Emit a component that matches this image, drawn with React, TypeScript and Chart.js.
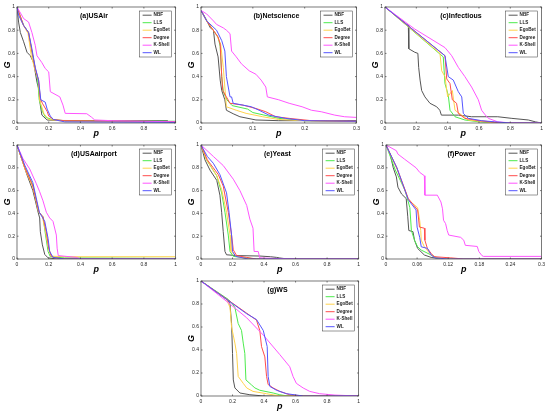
import React, { useEffect, useRef } from "react";
import { Chart, registerables } from "chart.js";

Chart.register(...registerables);

type Pt = [number, number];

const FONT = '"Liberation Sans", Arial, sans-serif';

const SERIES_NAMES = ["NBF", "LLS", "EgoBet", "Degree", "K-Shell", "WL"];
const SERIES_COLORS = ["#555555", "#4DEB4D", "#FFD34D", "#FF4D4D", "#FF55FF", "#5555FF"];

const Y_TICKS = [0, 0.2, 0.4, 0.6, 0.8, 1];
const X_TICKS_UNIT = [0, 0.2, 0.4, 0.6, 0.8, 1];
const X_TICKS_NETSCIENCE = [0, 0.1, 0.2, 0.3];
const X_TICKS_POWER = [0, 0.06, 0.12, 0.18, 0.24, 0.3];

// (a) USAir
const usairNBF: Pt[] = [[0, 1], [0.01, 0.87], [0.021, 0.78], [0.042, 0.7], [0.063, 0.61], [0.084, 0.58], [0.105, 0.52], [0.126, 0.35], [0.136, 0.3], [0.147, 0.154], [0.157, 0.068], [0.19, 0.026], [0.25, 0.022], [0.4, 0.021], [0.95, 0.02], [0.96, 0.005], [1, 0]];
const usairLLS: Pt[] = [[0, 1], [0.042, 0.84], [0.073, 0.78], [0.094, 0.61], [0.115, 0.47], [0.13, 0.38], [0.14, 0.2], [0.16, 0.1], [0.18, 0.05], [0.22, 0.03], [0.3, 0.02], [1, 0.015]];
const usairEgoBet: Pt[] = [[0, 1], [0.03, 0.87], [0.07, 0.77], [0.09, 0.58], [0.115, 0.45], [0.136, 0.37], [0.142, 0.2], [0.17, 0.08], [0.2, 0.03], [0.3, 0.015], [1, 0.01]];
const usairDegree: Pt[] = [[0, 1], [0.042, 0.84], [0.073, 0.78], [0.094, 0.62], [0.115, 0.47], [0.136, 0.37], [0.147, 0.21], [0.16, 0.17], [0.19, 0.1], [0.2, 0.06], [0.23, 0.03], [0.3, 0.02], [1, 0.012]];
const usairKShell: Pt[] = [[0, 1], [0.042, 0.9], [0.073, 0.87], [0.094, 0.78], [0.115, 0.67], [0.126, 0.58], [0.157, 0.52], [0.178, 0.47], [0.2, 0.44], [0.21, 0.27], [0.27, 0.225], [0.29, 0.154], [0.304, 0.083], [0.44, 0.08], [0.47, 0.05], [0.49, 0.026], [0.6, 0.02], [1, 0.01]];
const usairWL: Pt[] = [[0, 1], [0.01, 0.93], [0.042, 0.84], [0.073, 0.78], [0.094, 0.64], [0.115, 0.48], [0.136, 0.37], [0.15, 0.2], [0.178, 0.18], [0.19, 0.12], [0.21, 0.06], [0.23, 0.03], [0.3, 0.01], [1, 0.005]];

// (b) Netscience
const netNBF: Pt[] = [[0, 0.97], [0.008, 0.91], [0.018, 0.82], [0.024, 0.8], [0.027, 0.68], [0.033, 0.57], [0.037, 0.37], [0.04, 0.28], [0.046, 0.2], [0.049, 0.11], [0.062, 0.08], [0.075, 0.054], [0.106, 0.026], [0.15, 0.02], [0.3, 0.02]];
const netLLS: Pt[] = [[0, 0.97], [0.011, 0.88], [0.033, 0.74], [0.037, 0.66], [0.04, 0.4], [0.043, 0.27], [0.05, 0.2], [0.06, 0.15], [0.09, 0.12], [0.1, 0.09], [0.12, 0.07], [0.15, 0.04], [0.2, 0.02], [0.3, 0.012]];
const netEgoBet: Pt[] = [[0, 0.97], [0.011, 0.88], [0.03, 0.76], [0.038, 0.68], [0.043, 0.48], [0.049, 0.14], [0.068, 0.11], [0.087, 0.083], [0.119, 0.054], [0.15, 0.03], [0.2, 0.02], [0.3, 0.012]];
const netDegree: Pt[] = [[0, 0.97], [0.011, 0.88], [0.033, 0.74], [0.037, 0.68], [0.04, 0.4], [0.042, 0.28], [0.049, 0.225], [0.056, 0.17], [0.081, 0.154], [0.106, 0.125], [0.125, 0.097], [0.144, 0.054], [0.17, 0.04], [0.213, 0.02], [0.3, 0.015]];
const netKShell: Pt[] = [[0, 0.97], [0.011, 0.94], [0.024, 0.88], [0.03, 0.85], [0.043, 0.82], [0.049, 0.8], [0.056, 0.77], [0.059, 0.62], [0.068, 0.57], [0.078, 0.51], [0.093, 0.45], [0.106, 0.42], [0.116, 0.37], [0.125, 0.31], [0.128, 0.225], [0.15, 0.2], [0.17, 0.17], [0.195, 0.14], [0.213, 0.11], [0.232, 0.097], [0.258, 0.068], [0.277, 0.054], [0.3, 0.048]];
const netWL: Pt[] = [[0, 0.97], [0.011, 0.88], [0.03, 0.8], [0.04, 0.71], [0.046, 0.62], [0.049, 0.4], [0.056, 0.225], [0.059, 0.225], [0.062, 0.17], [0.081, 0.154], [0.097, 0.14], [0.112, 0.11], [0.131, 0.068], [0.163, 0.04], [0.2, 0.02], [0.3, 0.015]];

// (c) Infectious
const infNBF: Pt[] = [[0, 1], [0.149, 0.84], [0.152, 0.64], [0.19, 0.61], [0.21, 0.6], [0.215, 0.48], [0.224, 0.37], [0.234, 0.28], [0.255, 0.225], [0.287, 0.17], [0.33, 0.14], [0.35, 0.11], [0.36, 0.068], [0.47, 0.068], [0.553, 0.054], [0.72, 0.054], [0.81, 0.04], [0.915, 0.026], [0.96, 0.01], [1, 0]];
const infLLS: Pt[] = [[0, 1], [0.372, 0.57], [0.383, 0.34], [0.404, 0.24], [0.415, 0.11], [0.447, 0.054], [0.51, 0.026], [0.6, 0.01], [0.7, 0], [1, 0]];
const infEgoBet: Pt[] = [[0, 1], [0.351, 0.6], [0.362, 0.45], [0.383, 0.4], [0.4, 0.225], [0.43, 0.28], [0.447, 0.11], [0.49, 0.068], [0.53, 0.026], [0.7, 0], [1, 0]];
const infDegree: Pt[] = [[0, 1], [0.383, 0.58], [0.394, 0.38], [0.415, 0.34], [0.43, 0.2], [0.457, 0.17], [0.468, 0.083], [0.51, 0.04], [0.6, 0.02], [0.75, 0], [1, 0]];
const infKShell: Pt[] = [[0, 1], [0.19, 0.81], [0.383, 0.65], [0.426, 0.58], [0.468, 0.48], [0.51, 0.4], [0.553, 0.31], [0.596, 0.2], [0.617, 0.11], [0.64, 0.07], [0.66, 0.04], [0.72, 0.01], [0.81, 0], [1, 0]];
const infWL: Pt[] = [[0, 1], [0.383, 0.58], [0.404, 0.4], [0.436, 0.37], [0.468, 0.27], [0.49, 0.225], [0.5, 0.083], [0.532, 0.04], [0.617, 0.02], [0.7, 0.01], [0.8, 0], [1, 0]];

// (d) USAairport
const airNBF: Pt[] = [[0, 1], [0.06, 0.75], [0.1, 0.6], [0.133, 0.41], [0.143, 0.36], [0.147, 0.24], [0.16, 0.124], [0.175, 0.04], [0.196, 0.01], [0.25, 0], [1, 0]];
const airLLS: Pt[] = [[0, 1], [0.05, 0.8], [0.1, 0.65], [0.137, 0.41], [0.164, 0.37], [0.18, 0.21], [0.196, 0.066], [0.21, 0.02], [0.3, 0.01], [1, 0.005]];
const airEgoBet: Pt[] = [[0, 1], [0.05, 0.79], [0.1, 0.63], [0.135, 0.42], [0.16, 0.37], [0.18, 0.24], [0.2, 0.08], [0.215, 0.025], [0.3, 0.02], [1, 0.02]];
const airDegree: Pt[] = [[0, 1], [0.05, 0.8], [0.1, 0.64], [0.139, 0.41], [0.164, 0.37], [0.185, 0.24], [0.2, 0.095], [0.217, 0.023], [0.24, 0.01], [0.3, 0], [1, 0]];
const airKShell: Pt[] = [[0, 1], [0.038, 0.88], [0.08, 0.79], [0.122, 0.66], [0.143, 0.59], [0.164, 0.51], [0.185, 0.41], [0.206, 0.36], [0.227, 0.33], [0.248, 0.21], [0.253, 0.095], [0.26, 0.03], [0.31, 0.023], [0.375, 0.014], [0.4, 0], [1, 0]];
const airWL: Pt[] = [[0, 1], [0.05, 0.82], [0.1, 0.67], [0.141, 0.41], [0.175, 0.33], [0.196, 0.18], [0.206, 0.066], [0.227, 0.014], [0.3, 0], [1, 0]];

// (e) Yeast
const yeastNBF: Pt[] = [[0, 1], [0.025, 0.87], [0.057, 0.78], [0.1, 0.69], [0.12, 0.56], [0.131, 0.41], [0.141, 0.24], [0.152, 0.066], [0.162, 0.037], [0.226, 0.03], [0.373, 0.026], [0.44, 0.02], [0.48, 0.014], [0.5, 0.009], [0.55, 0], [1, 0]];
const yeastLLS: Pt[] = [[0, 1], [0.035, 0.87], [0.1, 0.73], [0.131, 0.58], [0.152, 0.41], [0.173, 0.21], [0.184, 0.066], [0.205, 0.023], [0.29, 0.009], [0.35, 0], [1, 0]];
const yeastEgoBet: Pt[] = [[0, 1], [0.035, 0.87], [0.1, 0.73], [0.131, 0.61], [0.162, 0.41], [0.184, 0.21], [0.19, 0.066], [0.226, 0.023], [0.3, 0], [1, 0]];
const yeastDegree: Pt[] = [[0, 1], [0.04, 0.87], [0.11, 0.74], [0.141, 0.64], [0.173, 0.41], [0.194, 0.21], [0.205, 0.08], [0.226, 0.03], [0.29, 0.014], [0.35, 0], [1, 0]];
const yeastKShell: Pt[] = [[0, 1], [0.078, 0.9], [0.141, 0.82], [0.205, 0.7], [0.247, 0.6], [0.29, 0.47], [0.31, 0.35], [0.33, 0.27], [0.337, 0.066], [0.363, 0.066], [0.373, 0.01], [0.46, 0.005], [0.6, 0], [1, 0]];
const yeastWL: Pt[] = [[0, 1], [0.04, 0.9], [0.078, 0.84], [0.12, 0.74], [0.162, 0.58], [0.178, 0.41], [0.194, 0.21], [0.2, 0.066], [0.22, 0.023], [0.3, 0], [1, 0]];

// (f) Power
const powerNBF: Pt[] = [[0, 1], [0.008, 0.92], [0.014, 0.8], [0.02, 0.72], [0.023, 0.63], [0.03, 0.57], [0.039, 0.53], [0.042, 0.37], [0.044, 0.25], [0.052, 0.24], [0.055, 0.165], [0.061, 0.093], [0.074, 0.035], [0.087, 0.014], [0.1, 0.006], [0.125, 0], [0.3, 0]];
const powerLLS: Pt[] = [[0, 1], [0.018, 0.78], [0.037, 0.6], [0.046, 0.45], [0.049, 0.25], [0.055, 0.165], [0.061, 0.107], [0.068, 0.078], [0.087, 0.035], [0.1, 0.005], [0.12, 0], [0.3, 0]];
const powerEgoBet: Pt[] = [[0, 1], [0.021, 0.79], [0.043, 0.52], [0.061, 0.45], [0.065, 0.34], [0.067, 0.25], [0.068, 0.165], [0.074, 0.107], [0.087, 0.035], [0.1, 0.01], [0.12, 0], [0.3, 0]];
const powerDegree: Pt[] = [[0, 1], [0.021, 0.8], [0.043, 0.53], [0.061, 0.43], [0.0645, 0.28], [0.074, 0.27], [0.075, 0.165], [0.08, 0.09], [0.087, 0.05], [0.093, 0.02], [0.125, 0.01], [0.15, 0], [0.3, 0]];
const powerKShell: Pt[] = [[0, 1], [0.02, 0.95], [0.023, 0.92], [0.036, 0.875], [0.058, 0.8], [0.065, 0.76], [0.074, 0.73], [0.075, 0.56], [0.099, 0.56], [0.106, 0.5], [0.109, 0.44], [0.111, 0.34], [0.115, 0.31], [0.118, 0.25], [0.121, 0.21], [0.144, 0.19], [0.15, 0.165], [0.153, 0.12], [0.176, 0.11], [0.179, 0.066], [0.185, 0.03], [0.188, 0.023], [0.3, 0.023]];
const powerWL: Pt[] = [[0, 1], [0.021, 0.8], [0.043, 0.52], [0.058, 0.43], [0.06, 0.28], [0.065, 0.19], [0.068, 0.107], [0.08, 0.093], [0.087, 0.035], [0.095, 0.01], [0.12, 0], [0.3, 0]];

// (g) WS
const wsNBF: Pt[] = [[0, 1], [0.173, 0.83], [0.184, 0.8], [0.194, 0.63], [0.2, 0.37], [0.205, 0.14], [0.215, 0.07], [0.247, 0.026], [0.31, 0.011], [0.4, 0], [1, 0]];
const wsLLS: Pt[] = [[0, 1], [0.173, 0.84], [0.194, 0.81], [0.215, 0.77], [0.236, 0.63], [0.257, 0.57], [0.268, 0.46], [0.278, 0.37], [0.285, 0.14], [0.32, 0.097], [0.342, 0.07], [0.373, 0.05], [0.458, 0.026], [0.5, 0.011], [0.55, 0], [1, 0]];
const wsEgoBet: Pt[] = [[0, 1], [0.162, 0.84], [0.184, 0.77], [0.194, 0.6], [0.215, 0.46], [0.226, 0.37], [0.236, 0.17], [0.268, 0.11], [0.29, 0.07], [0.33, 0.04], [0.415, 0.02], [0.5, 0], [1, 0]];
const wsDegree: Pt[] = [[0, 1], [0.29, 0.72], [0.352, 0.66], [0.373, 0.57], [0.384, 0.43], [0.405, 0.34], [0.416, 0.17], [0.426, 0.1], [0.458, 0.07], [0.5, 0.04], [0.563, 0.011], [0.65, 0], [1, 0]];
const wsKShell: Pt[] = [[0, 1], [0.184, 0.8], [0.29, 0.68], [0.395, 0.53], [0.5, 0.36], [0.563, 0.255], [0.584, 0.17], [0.605, 0.11], [0.648, 0.07], [0.69, 0.04], [0.753, 0.02], [0.85, 0.008], [1, 0]];
const wsWL: Pt[] = [[0, 1], [0.29, 0.715], [0.352, 0.665], [0.395, 0.57], [0.42, 0.43], [0.426, 0.17], [0.437, 0.083], [0.479, 0.05], [0.542, 0.02], [0.65, 0], [1, 0]];

type PanelCfg = {
  title: string;
  xMax: number;
  xTicks: number[];
  series: Pt[][];
  box: [number, number, number, number]; // plot area L, T, R, B in page px
};

const PANELS: PanelCfg[] = [
  { title: "(a)USAir", xMax: 1, xTicks: X_TICKS_UNIT, series: [usairNBF, usairLLS, usairEgoBet, usairDegree, usairKShell, usairWL], box: [17, 6, 176, 123] },
  { title: "(b)Netscience", xMax: 0.3, xTicks: X_TICKS_NETSCIENCE, series: [netNBF, netLLS, netEgoBet, netDegree, netKShell, netWL], box: [201, 6, 359, 123] },
  { title: "(c)Infectious", xMax: 1, xTicks: X_TICKS_UNIT, series: [infNBF, infLLS, infEgoBet, infDegree, infKShell, infWL], box: [385, 6, 542, 123] },
  { title: "(d)USAairport", xMax: 1, xTicks: X_TICKS_UNIT, series: [airNBF, airLLS, airEgoBet, airDegree, airKShell, airWL], box: [17, 144, 176, 259] },
  { title: "(e)Yeast", xMax: 1, xTicks: X_TICKS_UNIT, series: [yeastNBF, yeastLLS, yeastEgoBet, yeastDegree, yeastKShell, yeastWL], box: [201, 144, 359, 259] },
  { title: "(f)Power", xMax: 0.3, xTicks: X_TICKS_POWER, series: [powerNBF, powerLLS, powerEgoBet, powerDegree, powerKShell, powerWL], box: [386, 144, 544, 259] },
  { title: "(g)WS", xMax: 1, xTicks: X_TICKS_UNIT, series: [wsNBF, wsLLS, wsEgoBet, wsDegree, wsKShell, wsWL], box: [201, 280, 359, 396] },
];

const YW = 17; // y-axis band width
const XH = 16; // x-axis band height
const PAD_T = 4;
const PAD_R = 4;

const panelDecor = {
  id: "panelDecor",
  afterDatasetsDraw(chart: any, _args: any, opts: any) {
    const { ctx, chartArea: a } = chart;
    const xs = chart.scales.x;
    const ys = chart.scales.y;
    ctx.save();
    // axes box
    ctx.strokeStyle = "#404040";
    ctx.lineWidth = 0.7;
    ctx.strokeRect(a.left, a.top, a.right - a.left, a.bottom - a.top);
    // inward ticks
    ctx.beginPath();
    xs.ticks.forEach((t: any) => {
      const px = xs.getPixelForValue(t.value);
      ctx.moveTo(px, a.bottom);
      ctx.lineTo(px, a.bottom - 1.5);
      ctx.moveTo(px, a.top);
      ctx.lineTo(px, a.top + 1.5);
    });
    ys.ticks.forEach((t: any) => {
      const py = ys.getPixelForValue(t.value);
      ctx.moveTo(a.left, py);
      ctx.lineTo(a.left + 1.5, py);
      ctx.moveTo(a.right, py);
      ctx.lineTo(a.right - 1.5, py);
    });
    ctx.stroke();
    // title inside plot
    ctx.fillStyle = "#000";
    ctx.font = `bold 7px ${FONT}`;
    ctx.textAlign = "center";
    ctx.textBaseline = "middle";
    ctx.fillText(opts.title, a.left + (a.right - a.left) * 0.485, a.top + 9);
    // legend box
    const lw = 32;
    const lh = 46;
    const bx = a.right - 4 - lw;
    const by = a.top + 4;
    ctx.fillStyle = "#fff";
    ctx.fillRect(bx, by, lw, lh);
    ctx.strokeStyle = "#333";
    ctx.lineWidth = 0.5;
    ctx.strokeRect(bx, by, lw, lh);
    ctx.font = `bold 4.6px ${FONT}`;
    ctx.textAlign = "left";
    chart.data.datasets.forEach((ds: any, i: number) => {
      const yy = by + 4.2 + i * 7.5;
      ctx.strokeStyle = ds.borderColor;
      ctx.lineWidth = 1;
      ctx.beginPath();
      ctx.moveTo(bx + 3, yy);
      ctx.lineTo(bx + 12, yy);
      ctx.stroke();
      ctx.fillStyle = "#222";
      ctx.fillText(ds.label, bx + 14, yy);
    });
    ctx.restore();
  },
};

function Panel({ cfg }: { cfg: PanelCfg }) {
  const ref = useRef<HTMLCanvasElement>(null);
  const [L, T, R, B] = cfg.box;
  const w = R - L + YW + PAD_R;
  const h = B - T + PAD_T + XH;

  useEffect(() => {
    const chart = new Chart(ref.current as HTMLCanvasElement, {
      type: "line",
      data: {
        datasets: cfg.series.map((pts, i) => ({
          label: SERIES_NAMES[i],
          data: pts.map(([x, y]) => ({ x, y })),
          borderColor: SERIES_COLORS[i],
          backgroundColor: SERIES_COLORS[i],
          borderWidth: 1,
          pointRadius: 0,
          fill: false,
          tension: 0,
          order: SERIES_NAMES.length - i,
        })),
      },
      options: {
        animation: false,
        responsive: false,
        events: [],
        layout: { padding: { top: PAD_T, right: PAD_R, left: 0, bottom: 0 } },
        plugins: {
          legend: { display: false },
          tooltip: { enabled: false },
          panelDecor: { title: cfg.title },
        } as any,
        scales: {
          x: {
            type: "linear",
            min: 0,
            max: cfg.xMax,
            afterBuildTicks: (s: any) => {
              s.ticks = cfg.xTicks.map((v) => ({ value: v }));
            },
            afterFit: (s: any) => {
              s.height = XH;
            },
            grid: { display: false, drawTicks: false },
            border: { display: false },
            ticks: {
              font: { size: 5, family: FONT },
              color: "#262626",
              padding: 3,
              maxRotation: 0,
              autoSkip: false,
              callback: (v: any) => String(v),
            },
            title: {
              display: true,
              text: "p",
              font: { size: 9, weight: "bold", style: "italic", family: FONT },
              color: "#000",
              padding: 0,
            },
          },
          y: {
            type: "linear",
            min: 0,
            max: 1,
            afterBuildTicks: (s: any) => {
              s.ticks = Y_TICKS.map((v) => ({ value: v }));
            },
            afterFit: (s: any) => {
              s.width = YW;
            },
            grid: { display: false, drawTicks: false },
            border: { display: false },
            ticks: {
              font: { size: 5, family: FONT },
              color: "#262626",
              padding: 2,
              autoSkip: false,
              callback: (v: any) => String(v),
            },
            title: {
              display: true,
              text: "G",
              font: { size: 9, weight: "bold", style: "italic", family: FONT },
              color: "#000",
              padding: { top: 2, bottom: 0 },
            },
          },
        },
      } as any,
      plugins: [panelDecor as any],
    });
    return () => chart.destroy();
  }, [cfg]);

  return (
    <div style={{ position: "absolute", left: L - YW, top: T - PAD_T, width: w, height: h }}>
      <canvas ref={ref} width={w} height={h} style={{ width: w, height: h, display: "block" }} />
    </div>
  );
}

export default function App() {
  return (
    <div
      style={{
        position: "fixed",
        left: 0,
        top: 0,
        width: 550,
        height: 413,
        background: "#fff",
        overflow: "hidden",
      }}
    >
      {PANELS.map((p) => (
        <Panel key={p.title} cfg={p} />
      ))}
    </div>
  );
}
